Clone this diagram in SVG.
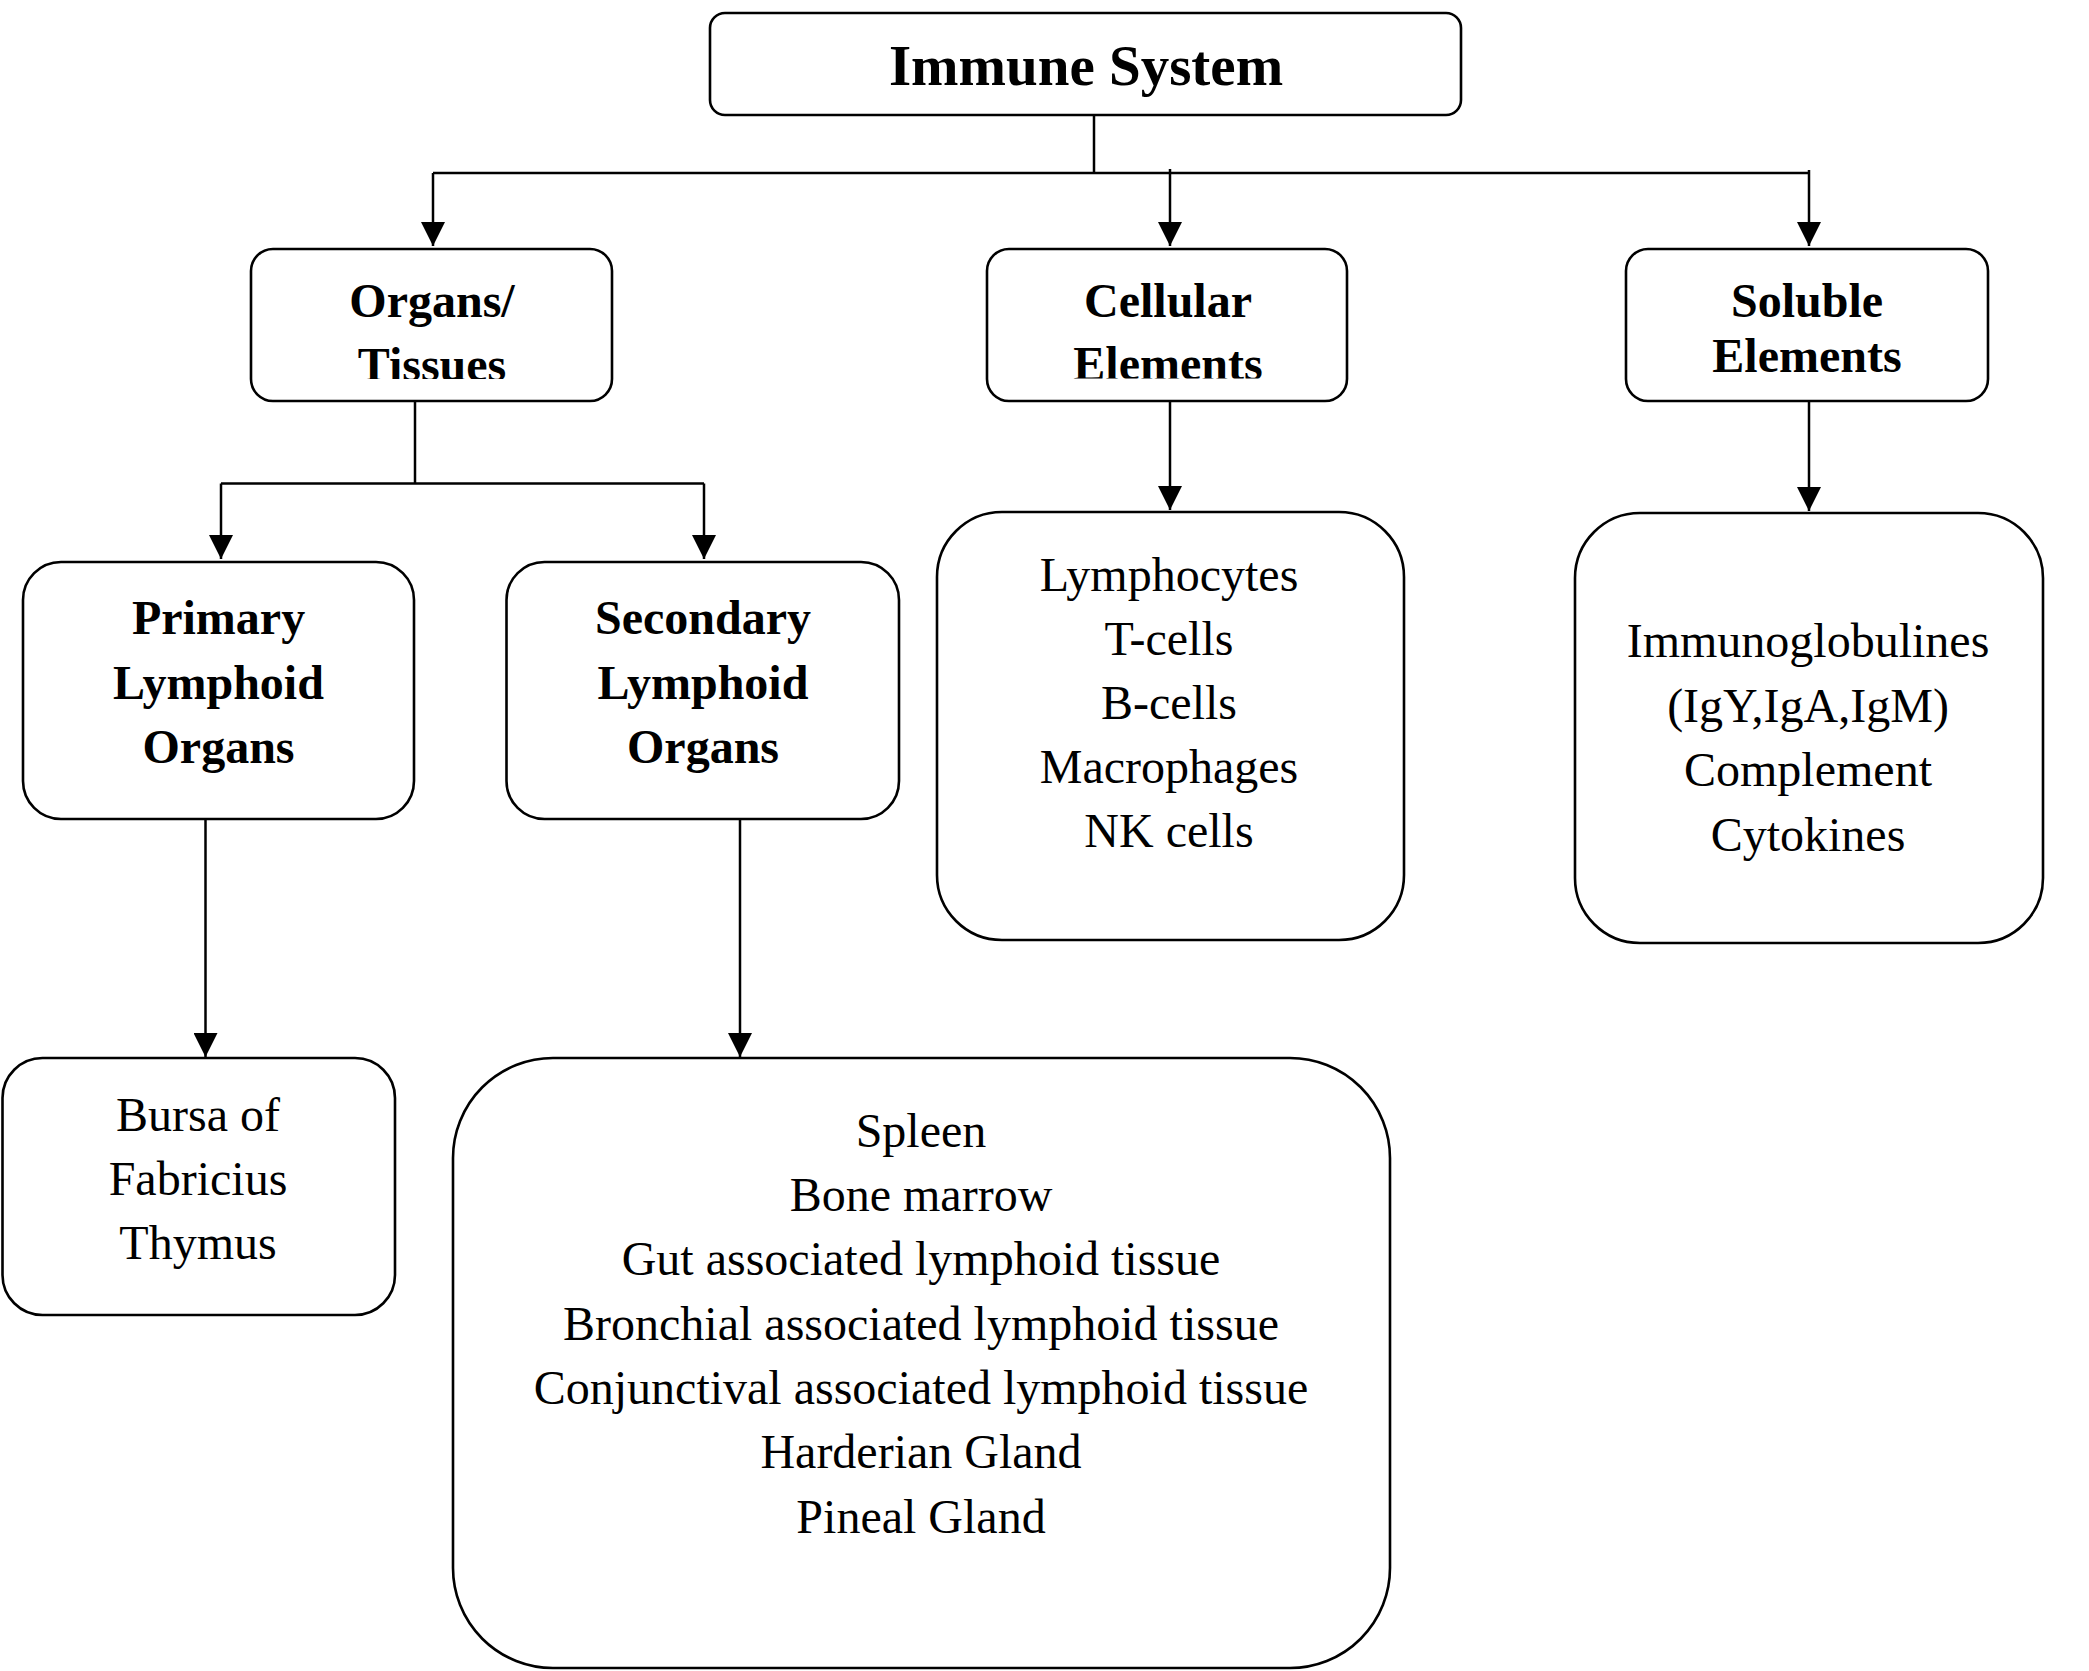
<svg xmlns="http://www.w3.org/2000/svg" width="2089" height="1671" viewBox="0 0 2089 1671">
<style>
.box{fill:#fff;stroke:#000;stroke-width:2.6}
.ln{fill:none;stroke:#000;stroke-width:2.5}
.t{font-family:"Liberation Serif","Times New Roman",serif;font-size:48px;fill:#000;text-anchor:middle}
.b{font-weight:bold}
.title{font-size:57px}
</style>
<defs>
<marker id="ah" viewBox="0 0 24 24" refX="24" refY="12" markerWidth="24" markerHeight="24" markerUnits="userSpaceOnUse" orient="auto">
<path d="M0,0 L24,12 L0,24 Z" fill="#000"/>
</marker>
<clipPath id="clipOrg"><rect x="251" y="249" width="361" height="130"/></clipPath>
<clipPath id="clipCel"><rect x="987" y="249" width="360" height="129.5"/></clipPath>
</defs>
<rect width="2089" height="1671" fill="#fff"/>

<g id="connectors">
<path class="ln" d="M1094,115 V173"/>
<path class="ln" d="M433,173 H1809"/>
<path class="ln" d="M433,173 V246" marker-end="url(#ah)"/>
<path class="ln" d="M1170,169 V246" marker-end="url(#ah)"/>
<path class="ln" d="M1809,170 V246" marker-end="url(#ah)"/>
<path class="ln" d="M415,401 V483.5"/>
<path class="ln" d="M221,483.5 H704"/>
<path class="ln" d="M221,483.5 V559" marker-end="url(#ah)"/>
<path class="ln" d="M704,483.5 V559" marker-end="url(#ah)"/>
<path class="ln" d="M1170,401 V510" marker-end="url(#ah)"/>
<path class="ln" d="M1809,401 V511" marker-end="url(#ah)"/>
<path class="ln" d="M205.5,819 V1057" marker-end="url(#ah)"/>
<path class="ln" d="M740,819 V1057" marker-end="url(#ah)"/>
</g>

<g id="immune-system">
<rect class="box" x="710" y="13" width="751" height="102" rx="15"/>
<text class="t b title" x="1086" y="85">Immune System</text>
</g>

<g id="organs-tissues">
<rect class="box" x="251" y="249" width="361" height="152" rx="22"/>
<g clip-path="url(#clipOrg)">
<text class="t b" x="432" y="317">Organs/</text>
<text class="t b" x="432" y="381">Tissues</text>
</g>
</g>

<g id="cellular-elements">
<rect class="box" x="987" y="249" width="360" height="152" rx="22"/>
<g clip-path="url(#clipCel)">
<text class="t b" x="1168" y="317">Cellular</text>
<text class="t b" x="1168" y="380">Elements</text>
</g>
</g>

<g id="soluble-elements">
<rect class="box" x="1626" y="249" width="362" height="152" rx="22"/>
<text class="t b" x="1807" y="317">Soluble</text>
<text class="t b" x="1807" y="372">Elements</text>
</g>

<g id="primary-lymphoid">
<rect class="box" x="23" y="562" width="391" height="257" rx="38"/>
<text class="t b" x="218.5" y="634">Primary</text>
<text class="t b" x="218.5" y="699">Lymphoid</text>
<text class="t b" x="218.5" y="763">Organs</text>
</g>

<g id="secondary-lymphoid">
<rect class="box" x="506.5" y="562" width="392.5" height="257" rx="38"/>
<text class="t b" x="703" y="634">Secondary</text>
<text class="t b" x="703" y="699">Lymphoid</text>
<text class="t b" x="703" y="763">Organs</text>
</g>

<g id="cells-list">
<rect class="box" x="937" y="512" width="467" height="428" rx="65"/>
<text class="t" x="1169" y="591">Lymphocytes</text>
<text class="t" x="1169" y="655">T-cells</text>
<text class="t" x="1169" y="719">B-cells</text>
<text class="t" x="1169" y="783">Macrophages</text>
<text class="t" x="1169" y="847">NK cells</text>
</g>

<g id="soluble-list">
<rect class="box" x="1575" y="513" width="468" height="430" rx="65"/>
<text class="t" x="1808" y="657">Immunoglobulines</text>
<text class="t" x="1808" y="721.5">(IgY,IgA,IgM)</text>
<text class="t" x="1808" y="786">Complement</text>
<text class="t" x="1808" y="851">Cytokines</text>
</g>

<g id="primary-list">
<rect class="box" x="2.5" y="1058" width="392.5" height="257" rx="40"/>
<text class="t" x="198" y="1130.5">Bursa of</text>
<text class="t" x="198" y="1195">Fabricius</text>
<text class="t" x="198" y="1259">Thymus</text>
</g>

<g id="secondary-list">
<rect class="box" x="453" y="1058" width="937" height="610" rx="100"/>
<text class="t" x="921" y="1147">Spleen</text>
<text class="t" x="921" y="1211">Bone marrow</text>
<text class="t" x="921" y="1275">Gut associated lymphoid tissue</text>
<text class="t" x="921" y="1340">Bronchial associated lymphoid tissue</text>
<text class="t" x="921" y="1404">Conjunctival associated lymphoid tissue</text>
<text class="t" x="921" y="1468">Harderian Gland</text>
<text class="t" x="921" y="1533">Pineal Gland</text>
</g>
</svg>
